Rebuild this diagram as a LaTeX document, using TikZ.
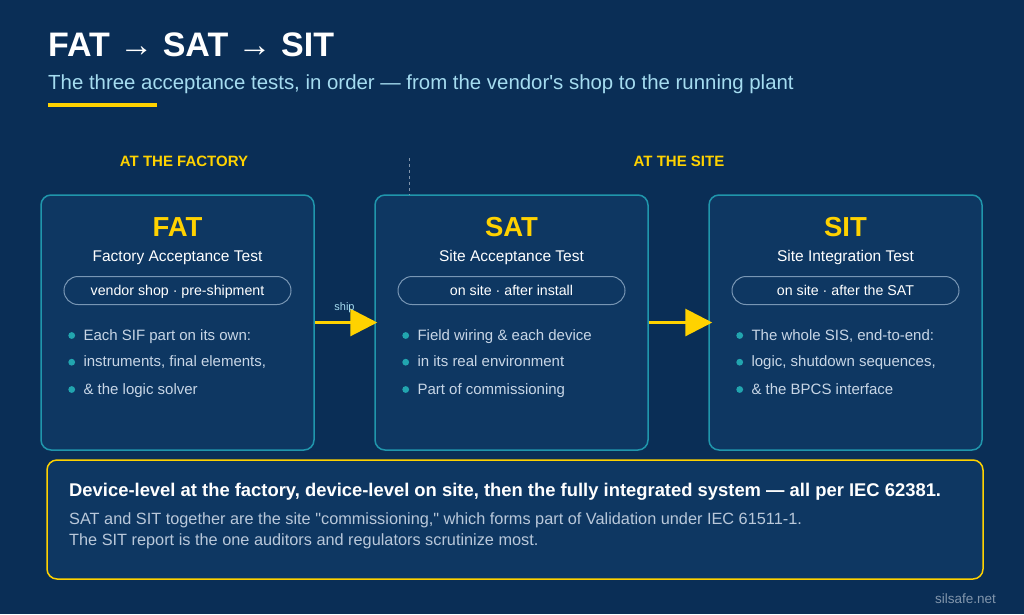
\documentclass[tikz,border=0pt]{standalone}
\usepackage{fontspec}
\setmainfont[Ligatures=TeXOff]{Liberation Sans}
\usetikzlibrary{positioning,arrows.meta}
\definecolor{bgnavy}{RGB}{10,46,86}
\definecolor{cardfill}{RGB}{14,55,98}
\definecolor{cardedge}{RGB}{32,150,172}
\definecolor{dotc}{RGB}{34,165,175}
\definecolor{accent}{RGB}{255,210,0}
\definecolor{subcyan}{RGB}{165,220,240}
\definecolor{bodytxt}{RGB}{200,214,230}
\definecolor{pilledge}{RGB}{120,150,180}
\definecolor{noteg}{RGB}{185,200,218}
\definecolor{markg}{RGB}{130,150,172}
\newcommand{\fsz}[1]{\fontsize{#1}{#1}\selectfont}

\begin{document}
\begin{tikzpicture}[x=1pt,y=-1pt,
  card/.style={draw=cardedge,fill=cardfill,line width=1.5pt,rounded corners=10pt,
    minimum width=273pt,minimum height=255pt,inner sep=0pt},
  cardtitle/.style={anchor=base,text=accent,font=\bfseries\fsz{27.5},inner sep=0pt},
  cardsub/.style={anchor=base,text=white,font=\fsz{15.5},inner sep=0pt},
  pill/.style={draw=pilledge,line width=1pt,rounded corners=14pt,minimum width=227pt,
    minimum height=28pt,text height=11pt,text depth=2pt,text=white,font=\fsz{14.2},inner sep=0pt},
  bul/.style={anchor=base west,text=bodytxt,font=\fsz{15},inner sep=0pt},
  zone/.style={anchor=base,text=accent,font=\bfseries\fsz{15},inner sep=0pt},
  flow/.style={draw=accent,line width=3pt,-{Triangle[length=27pt,width=27pt]}},
  notebox/.style={draw=accent,fill=cardfill,line width=1.5pt,rounded corners=10pt,
    minimum width=936pt,minimum height=119pt,inner sep=0pt}]
  \useasboundingbox (0,0) rectangle (1024,614);
  \fill[bgnavy] (0,0) rectangle (1024,614);

  % heading
  \node[anchor=base west,inner sep=0pt,text=white,font=\bfseries\fsz{34}] (title) at (48,56) {FAT → SAT → SIT};
  \node[anchor=base west,inner sep=0pt,text=subcyan,font=\fsz{20.4}] (subtitle) at (48,89)
    {The three acceptance tests, in order — from the vendor's shop to the running plant};
  \fill[accent] (48,102.5) rectangle (157,106.5);

  % zones
  \node[zone] (zfac) at (184,166) {AT THE FACTORY};
  \node[zone] (zsite) at (679,166) {AT THE SITE};

  % the three cards
  \foreach \n/\cx/\ttl/\sub/\pl/\ba/\bb/\bc in {
    fat/177.5/FAT/Factory Acceptance Test/vendor shop · pre-shipment/Each SIF part on its own:/{instruments, final elements,}/\& the logic solver,
    sat/511.5/SAT/Site Acceptance Test/on site · after install/Field wiring \& each device/in its real environment/Part of commissioning,
    sit/845.5/SIT/Site Integration Test/on site · after the SAT/{The whole SIS, end-to-end:}/{logic, shutdown sequences,}/\& the BPCS interface}{
    \node[card] (\n) at (\cx,322.5) {};
    \node[cardtitle] (\n-t) at (\cx,236) {\ttl};
    \node[cardsub] (\n-s) at (\cx,261) {\sub};
    \node[pill] (\n-p) at (\cx,290.5) {\pl};
    \node[bul] (\n-1) at ({\cx-94.2},340) {\ba};
    \node[bul] (\n-2) at ({\cx-94.2},366.7) {\bb};
    \node[bul] (\n-3) at ({\cx-94.2},394) {\bc};
    \foreach \k in {1,2,3}
      \fill[dotc] ([xshift=-11.6pt,yshift=4.5pt]\n-\k.base west) circle (3.4pt);
  }

  % factory / site split
  \coordinate (split) at (409.3,158);
  \draw[markg,dashed,dash pattern=on 3pt off 3pt,line width=0.8pt] (split) -- (split |- sat.north);

  % arrows
  \draw[flow,shorten >=-3pt] (fat.east) -- (sat.west);
  \draw[flow,shorten >=-4pt] (sat.east) -- (sit.west);
  \node[anchor=base,inner sep=0pt,text=subcyan,font=\fsz{11}] (ship) at (344.5,310) {ship};

  % summary
  \node[notebox] (note) at (515,519.5) {};
  \node[anchor=base west,inner sep=0pt,text=white,font=\bfseries\fsz{18.4}] (note1) at (69,496)
    {Device-level at the factory, device-level on site, then the fully integrated system — all per IEC 62381.};
  \node[anchor=base west,inner sep=0pt,text=noteg,font=\fsz{16.3}] (note2) at (69,524)
    {SAT and SIT together are the site "commissioning," which forms part of Validation under IEC 61511-1.};
  \node[anchor=base west,inner sep=0pt,text=noteg,font=\fsz{16.3}] (note3) at (69,545)
    {The SIT report is the one auditors and regulators scrutinize most.};

  \node[anchor=base east,inner sep=0pt,text=markg,font=\fsz{13.5}] (mark) at (996,603) {silsafe.net};
\end{tikzpicture}
\end{document}
